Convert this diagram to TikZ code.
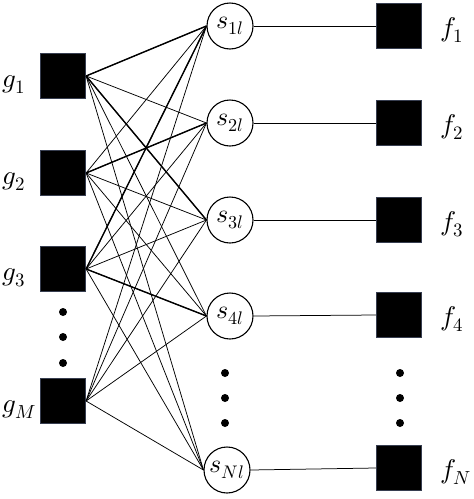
\documentclass[tikz,border=0pt]{standalone}
\usepackage{unicode-math}
\setmathfont{Latin Modern Math}
\begin{document}
\begin{tikzpicture}[x=1pt,y=-1pt,
  sq/.style={rectangle,fill=black,draw={rgb,255:red,55;green,62;blue,80},line width=1.2pt,minimum size=45pt,inner sep=0pt},
  circ/.style={circle,draw=black,line width=1.1pt,minimum size=46pt,inner sep=0pt,font=\fontsize{26}{28}\selectfont},
  lbl/.style={inner sep=0pt,font=\fontsize{27}{29}\selectfont},
  thin/.style={line width=0.75pt},
  thick2/.style={line width=1.4pt},
  dotc/.style={circle,fill=black,inner sep=0pt,minimum size=8pt}]
\useasboundingbox (0,0) rectangle (474,499);
% left factor nodes
\node[sq] (g1) at (63,76) {};
\node[sq] (g2) at (63,173) {};
\node[sq] (g3) at (63,269) {};
\node[sq] (gM) at (63,401) {};
\node[lbl,anchor=base west] (lg1) at (2,87) {$g_1$};
\node[lbl,anchor=base west] (lg2) at (2,184) {$g_2$};
\node[lbl,anchor=base west] (lg3) at (2,280) {$g_3$};
\node[lbl,anchor=base west] (lgM) at (2,412) {$g_M$};
\node[dotc] (gd1) at (63,312) {};
\node[dotc] (gd2) at (63,337) {};
\node[dotc] (gd3) at (63,363) {};
% variable nodes
\node[circ] (s1) at (230,26) {$s_{1l}$};
\node[circ] (s2) at (230,123) {$s_{2l}$};
\node[circ] (s3) at (230,220) {$s_{3l}$};
\node[circ] (s4) at (230,316) {$s_{4l}$};
\node[circ] (sN) at (227,470) {$s_{Nl}$};
\node[dotc] (sd1) at (225,373) {};
\node[dotc] (sd2) at (225,398) {};
\node[dotc] (sd3) at (225,423) {};
% right factor nodes
\node[sq] (f1) at (399,26) {};
\node[sq] (f2) at (399,123) {};
\node[sq] (f3) at (399,220) {};
\node[sq] (f4) at (399,315) {};
\node[sq] (fN) at (399,468) {};
\node[lbl,anchor=base west] (lf1) at (440,36) {$f_1$};
\node[lbl,anchor=base west] (lf2) at (440,133) {$f_2$};
\node[lbl,anchor=base west] (lf3) at (440,230) {$f_3$};
\node[lbl,anchor=base west] (lf4) at (440,325) {$f_4$};
\node[lbl,anchor=base west] (lfN) at (440,478) {$f_N$};
\node[dotc] (fd1) at (400,373) {};
\node[dotc] (fd2) at (400,398) {};
\node[dotc] (fd3) at (400,423) {};
% connections g -> s
\foreach \g in {g1,g2,g3,gM}{
  \foreach \s in {s1,s2,s3,s4,sN}{
    \draw[thin] (\g.east) -- (\s.west);
  }
}
\draw[thick2] (g1.east) -- (s1.west);
\draw[thick2] (g1.east) -- (s3.west);
\draw[thick2] (g2.east) -- (s2.west);
\draw[thick2] (g3.east) -- (s1.west);
\draw[thick2] (g3.east) -- (s4.west);
% s -> f
\draw[thin] (s1.east) -- (f1.west);
\draw[thin] (s2.east) -- (f2.west);
\draw[thin] (s3.east) -- (f3.west);
\draw[thin] (s4.east) -- (f4.west);
\draw[thin] (sN.east) -- (fN.west);
\end{tikzpicture}
\end{document}
